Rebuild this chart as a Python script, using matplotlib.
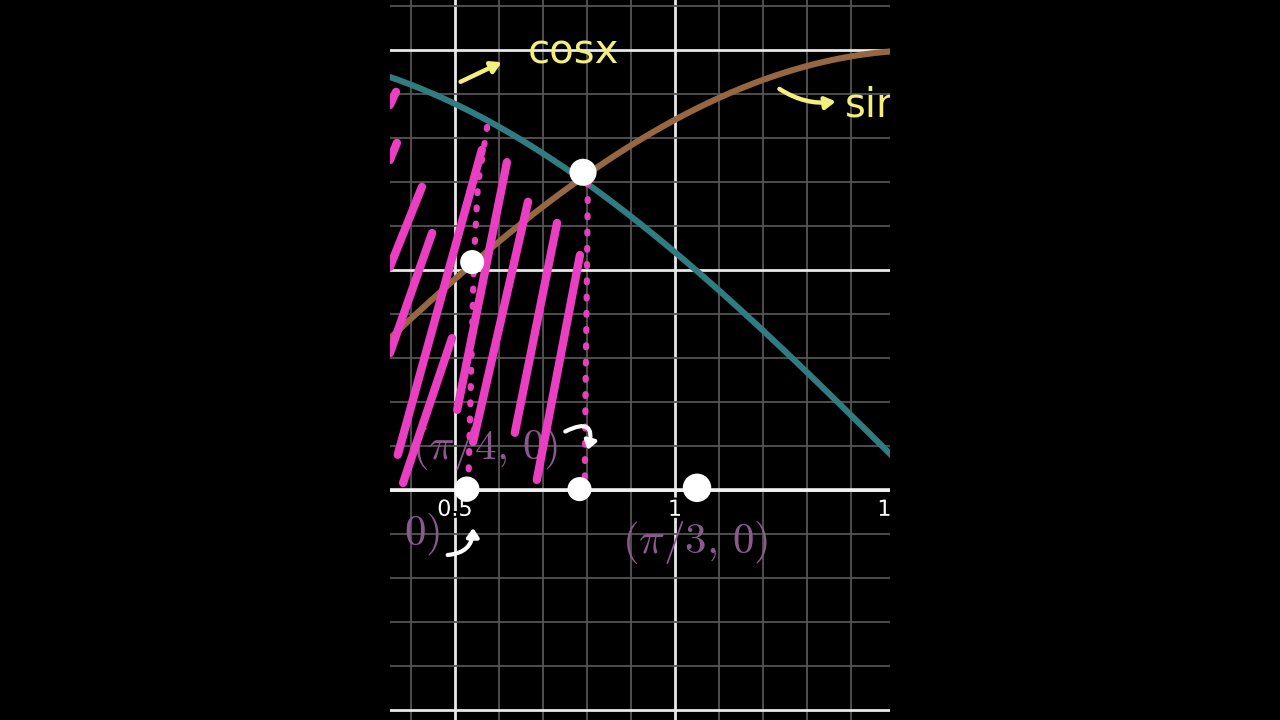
import numpy as np
import matplotlib.pyplot as plt
import matplotlib.patheffects as pe

plt.rcParams['mathtext.fontset'] = 'cm'

# view window of the graph (data units)
x_view = [0.3523, 1.4886]
y_view = [-0.5227, 1.1136]

minor_step = 0.1
major_step = 0.5

tick_values = [0.5, 1.0, 1.5]
tick_labels = ["0.5", "1", "1.5"]

# curves
curve_names = ["cos", "sin"]
curve_colors = ["#2f7d82", "#976742"]

# pink hatch strokes (start, end)
hatch_x0 = [0.352, 0.352, 0.352, 0.352, 0.370, 0.382, 0.505, 0.541, 0.636, 0.686]
hatch_y0 = [0.875, 0.750, 0.507, 0.311, 0.080, 0.016, 0.182, 0.109, 0.130, 0.023]
hatch_x1 = [0.366, 0.368, 0.425, 0.448, 0.561, 0.493, 0.618, 0.666, 0.732, 0.784]
hatch_y1 = [0.905, 0.789, 0.689, 0.584, 0.773, 0.345, 0.745, 0.655, 0.607, 0.534]

# pink dotted drop lines
drop1_x = [0.573, 0.552, 0.543, 0.539, 0.534, 0.530]
drop1_y = [0.825, 0.693, 0.523, 0.364, 0.159, 0.000]
drop2_x = [0.802, 0.800, 0.797, 0.795]
drop2_y = [0.698, 0.500, 0.250, 0.023]

# white points
dot_x = [0.539, 0.791, 0.527, 0.783, 1.050]
dot_y = [0.518, 0.722, 0.002, 0.002, 0.005]
dot_size = [300, 380, 330, 300, 420]

# point labels
label_text = [r"$(\pi/4,\,0)$", r"$(\pi/3,\,0)$", r"$(\pi/6,\,0)$"]
label_x = [0.568, 1.045, 0.300]
label_y = [0.095, -0.120, -0.102]

# handwritten notes
note_text = ["cosx", "sinx"]
note_x = [0.770, 1.386]
note_y = [0.995, 0.873]
note_ha = ["center", "left"]


def draw_grid(ax):
    xs = np.arange(-1.0, 2.01, minor_step)
    ys = np.arange(-1.0, 1.51, minor_step)
    for v in xs:
        major = abs(v / major_step - round(v / major_step)) < 1e-6
        ax.axvline(v, color="#e8e8e8" if major else "#555555",
                   lw=2.0 if major else 1.3, zorder=1)
    for v in ys:
        major = abs(v / major_step - round(v / major_step)) < 1e-6
        ax.axhline(v, color="#e8e8e8" if major else "#555555",
                   lw=2.0 if major else 1.3, zorder=1)
    ax.axhline(0, color="#f2f2f2", lw=2.6, zorder=2)


fig = plt.figure(figsize=(12.8, 7.2), dpi=100, facecolor="black")
ax = fig.add_axes([390 / 1280, 0, 500 / 1280, 1])
ax.set_facecolor("#050505")
ax.set_xlim(x_view)
ax.set_ylim(y_view)
ax.axis("off")

draw_grid(ax)

x = np.linspace(x_view[0], x_view[1], 400)
ax.plot(x, np.cos(x), color=curve_colors[0], lw=4.4, zorder=3)
ax.plot(x, np.sin(x), color=curve_colors[1], lw=4.4, zorder=3)

# tick labels
for v, t in zip(tick_values, tick_labels):
    ax.text(v, -0.045, t, color="white", fontsize=16, ha="center",
            va="center", zorder=6, clip_on=True,
            path_effects=[pe.withStroke(linewidth=3, foreground="black")])

# point labels
for t, lx, ly in zip(label_text, label_x, label_y):
    ax.text(lx, ly, t, color="#8a5a8f", fontsize=31, ha="center",
            va="center", zorder=4, clip_on=True)

# pink hatching
for a, b, c, d in zip(hatch_x0, hatch_y0, hatch_x1, hatch_y1):
    ax.plot([a, c], [b, d], color="#ea3fc2", lw=6, solid_capstyle="round",
            zorder=5)

ax.plot(drop1_x, drop1_y, color="#e640bd", lw=4.5, ls=(0, (0.3, 2.3)),
        dash_capstyle="round", zorder=5)
ax.plot(drop2_x, drop2_y, color="#e640bd", lw=4.5, ls=(0, (0.3, 2.3)),
        dash_capstyle="round", zorder=5)

ax.scatter(dot_x, dot_y, s=dot_size, color="white", edgecolors="none",
           zorder=7)

# yellow notes
yellow = "#f3ef7c"
for t, nx, ny, ha in zip(note_text, note_x, note_y, note_ha):
    ax.text(nx, ny, t, color=yellow, fontsize=29, ha=ha, va="center",
            zorder=6, clip_on=True)
ax.annotate("", xy=(0.612, 0.975), xytext=(0.507, 0.925),
            arrowprops=dict(arrowstyle="-|>,head_length=0.6,head_width=0.35",
                            color=yellow, lw=3.2), zorder=6)
ax.annotate("", xy=(1.372, 0.884), xytext=(1.232, 0.915),
            arrowprops=dict(arrowstyle="-|>,head_length=0.6,head_width=0.35",
                            color=yellow, lw=3.2,
                            connectionstyle="arc3,rad=0.2"), zorder=6)

# white hand arrows
ax.annotate("", xy=(0.800, 0.085), xytext=(0.745, 0.130),
            arrowprops=dict(arrowstyle="-|>,head_length=0.5,head_width=0.35",
                            color="white", lw=3,
                            connectionstyle="arc3,rad=-1.2"), zorder=6)
ax.annotate("", xy=(0.541, -0.080), xytext=(0.477, -0.148),
            arrowprops=dict(arrowstyle="-|>,head_length=0.5,head_width=0.35",
                            color="white", lw=3,
                            connectionstyle="arc3,rad=0.5"), zorder=6)

fig.savefig("out.png", dpi=100, facecolor="black")
